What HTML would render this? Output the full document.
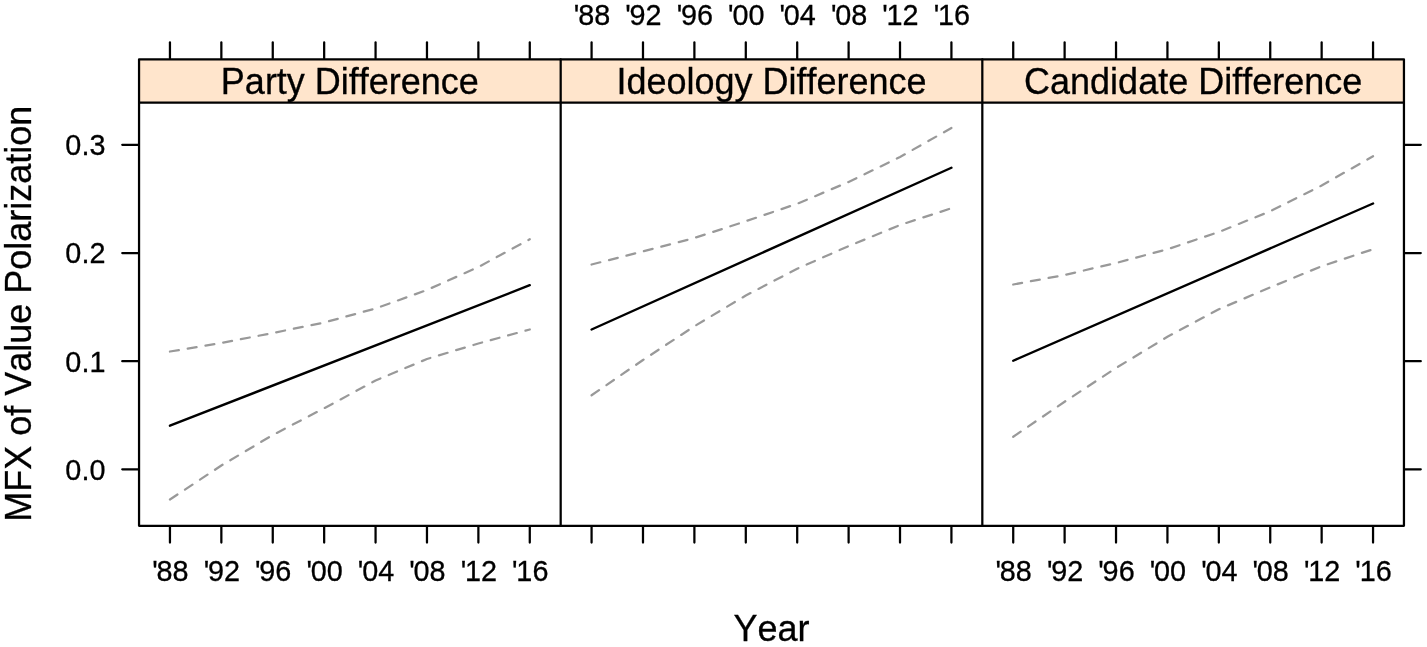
<!DOCTYPE html>
<html><head><meta charset="utf-8"><title>MFX of Value Polarization</title>
<style>html,body{margin:0;padding:0;background:#fff}svg{display:block}</style></head>
<body>
<svg width="1427" height="647" viewBox="0 0 1427 647" font-family="'Liberation Sans', Arial, Helvetica, sans-serif" fill="#000" style="font-variant-ligatures:none;font-kerning:none">
<rect width="1427" height="647" fill="#fff"/>
<rect x="139.05" y="59.25" width="421.63" height="43.45" fill="#ffe5cc"/>
<rect x="560.68" y="59.25" width="421.63" height="43.45" fill="#ffe5cc"/>
<rect x="982.32" y="59.25" width="421.63" height="43.45" fill="#ffe5cc"/>
<polyline points="169.95,351.50 221.35,343.00 272.76,333.00 324.16,322.50 375.57,308.50 426.97,290.00 478.38,267.00 529.78,239.25" fill="none" stroke="#999999" stroke-width="2.25" stroke-dasharray="9 9" stroke-linecap="round" stroke-linejoin="round"/>
<polyline points="169.95,499.50 221.35,465.50 272.76,435.00 324.16,408.25 375.57,380.50 426.97,359.00 478.38,343.50 529.78,329.50" fill="none" stroke="#999999" stroke-width="2.25" stroke-dasharray="9 9" stroke-linecap="round" stroke-linejoin="round"/>
<line x1="169.95" y1="425.7" x2="529.78" y2="285.2" stroke="#000" stroke-width="2.4" stroke-linecap="round"/>
<polyline points="591.58,264.50 642.99,251.40 694.39,238.00 745.80,221.25 797.20,203.75 848.61,182.00 900.01,157.00 951.42,128.00" fill="none" stroke="#999999" stroke-width="2.25" stroke-dasharray="9 9" stroke-linecap="round" stroke-linejoin="round"/>
<polyline points="591.58,395.25 642.99,360.00 694.39,326.25 745.80,295.50 797.20,268.75 848.61,246.10 900.01,225.00 951.42,208.25" fill="none" stroke="#999999" stroke-width="2.25" stroke-dasharray="9 9" stroke-linecap="round" stroke-linejoin="round"/>
<line x1="591.58" y1="329.5" x2="951.42" y2="167.75" stroke="#000" stroke-width="2.4" stroke-linecap="round"/>
<polyline points="1013.22,284.50 1064.62,275.00 1116.03,263.00 1167.43,249.25 1218.84,232.00 1270.24,211.25 1321.65,185.50 1373.05,156.25" fill="none" stroke="#999999" stroke-width="2.25" stroke-dasharray="9 9" stroke-linecap="round" stroke-linejoin="round"/>
<polyline points="1013.22,436.75 1064.62,401.75 1116.03,368.00 1167.43,336.75 1218.84,309.25 1270.24,287.40 1321.65,266.25 1373.05,249.25" fill="none" stroke="#999999" stroke-width="2.25" stroke-dasharray="9 9" stroke-linecap="round" stroke-linejoin="round"/>
<line x1="1013.22" y1="360.75" x2="1373.05" y2="203.5" stroke="#000" stroke-width="2.4" stroke-linecap="round"/>
<g stroke="#000" stroke-width="2.25" fill="none" stroke-linecap="round" stroke-linejoin="miter">
<rect x="139.05" y="59.25" width="1264.90" height="466.55" stroke-linejoin="round"/>
<line x1="139.05" y1="102.7" x2="1403.95" y2="102.7"/>
<line x1="560.68" y1="59.25" x2="560.68" y2="525.8"/>
<line x1="982.32" y1="59.25" x2="982.32" y2="525.8"/>
<line x1="169.95" y1="58.25" x2="169.95" y2="42.45"/>
<line x1="169.95" y1="526.8" x2="169.95" y2="542.5999999999999"/>
<line x1="221.35" y1="58.25" x2="221.35" y2="42.45"/>
<line x1="221.35" y1="526.8" x2="221.35" y2="542.5999999999999"/>
<line x1="272.76" y1="58.25" x2="272.76" y2="42.45"/>
<line x1="272.76" y1="526.8" x2="272.76" y2="542.5999999999999"/>
<line x1="324.16" y1="58.25" x2="324.16" y2="42.45"/>
<line x1="324.16" y1="526.8" x2="324.16" y2="542.5999999999999"/>
<line x1="375.57" y1="58.25" x2="375.57" y2="42.45"/>
<line x1="375.57" y1="526.8" x2="375.57" y2="542.5999999999999"/>
<line x1="426.97" y1="58.25" x2="426.97" y2="42.45"/>
<line x1="426.97" y1="526.8" x2="426.97" y2="542.5999999999999"/>
<line x1="478.38" y1="58.25" x2="478.38" y2="42.45"/>
<line x1="478.38" y1="526.8" x2="478.38" y2="542.5999999999999"/>
<line x1="529.78" y1="58.25" x2="529.78" y2="42.45"/>
<line x1="529.78" y1="526.8" x2="529.78" y2="542.5999999999999"/>
<line x1="591.58" y1="58.25" x2="591.58" y2="42.45"/>
<line x1="591.58" y1="526.8" x2="591.58" y2="542.5999999999999"/>
<line x1="642.99" y1="58.25" x2="642.99" y2="42.45"/>
<line x1="642.99" y1="526.8" x2="642.99" y2="542.5999999999999"/>
<line x1="694.39" y1="58.25" x2="694.39" y2="42.45"/>
<line x1="694.39" y1="526.8" x2="694.39" y2="542.5999999999999"/>
<line x1="745.80" y1="58.25" x2="745.80" y2="42.45"/>
<line x1="745.80" y1="526.8" x2="745.80" y2="542.5999999999999"/>
<line x1="797.20" y1="58.25" x2="797.20" y2="42.45"/>
<line x1="797.20" y1="526.8" x2="797.20" y2="542.5999999999999"/>
<line x1="848.61" y1="58.25" x2="848.61" y2="42.45"/>
<line x1="848.61" y1="526.8" x2="848.61" y2="542.5999999999999"/>
<line x1="900.01" y1="58.25" x2="900.01" y2="42.45"/>
<line x1="900.01" y1="526.8" x2="900.01" y2="542.5999999999999"/>
<line x1="951.42" y1="58.25" x2="951.42" y2="42.45"/>
<line x1="951.42" y1="526.8" x2="951.42" y2="542.5999999999999"/>
<line x1="1013.22" y1="58.25" x2="1013.22" y2="42.45"/>
<line x1="1013.22" y1="526.8" x2="1013.22" y2="542.5999999999999"/>
<line x1="1064.62" y1="58.25" x2="1064.62" y2="42.45"/>
<line x1="1064.62" y1="526.8" x2="1064.62" y2="542.5999999999999"/>
<line x1="1116.03" y1="58.25" x2="1116.03" y2="42.45"/>
<line x1="1116.03" y1="526.8" x2="1116.03" y2="542.5999999999999"/>
<line x1="1167.43" y1="58.25" x2="1167.43" y2="42.45"/>
<line x1="1167.43" y1="526.8" x2="1167.43" y2="542.5999999999999"/>
<line x1="1218.84" y1="58.25" x2="1218.84" y2="42.45"/>
<line x1="1218.84" y1="526.8" x2="1218.84" y2="542.5999999999999"/>
<line x1="1270.24" y1="58.25" x2="1270.24" y2="42.45"/>
<line x1="1270.24" y1="526.8" x2="1270.24" y2="542.5999999999999"/>
<line x1="1321.65" y1="58.25" x2="1321.65" y2="42.45"/>
<line x1="1321.65" y1="526.8" x2="1321.65" y2="542.5999999999999"/>
<line x1="1373.05" y1="58.25" x2="1373.05" y2="42.45"/>
<line x1="1373.05" y1="526.8" x2="1373.05" y2="542.5999999999999"/>
<line x1="138.05" y1="469.35" x2="122.25000000000001" y2="469.35"/>
<line x1="1404.95" y1="469.35" x2="1420.75" y2="469.35"/>
<line x1="138.05" y1="361.18" x2="122.25000000000001" y2="361.18"/>
<line x1="1404.95" y1="361.18" x2="1420.75" y2="361.18"/>
<line x1="138.05" y1="253.01" x2="122.25000000000001" y2="253.01"/>
<line x1="1404.95" y1="253.01" x2="1420.75" y2="253.01"/>
<line x1="138.05" y1="144.84" x2="122.25000000000001" y2="144.84"/>
<line x1="1404.95" y1="144.84" x2="1420.75" y2="144.84"/>
</g>
<text transform="translate(349.87 93.8) scale(1 1.005)" font-size="36" text-anchor="middle" stroke="#000" stroke-width="0.3">Party Difference</text>
<text transform="translate(771.50 93.8) scale(1 1.005)" font-size="36" text-anchor="middle" stroke="#000" stroke-width="0.3">Ideology Difference</text>
<text transform="translate(1193.13 93.8) scale(1 1.005)" font-size="36" text-anchor="middle" stroke="#000" stroke-width="0.3">Candidate Difference</text>
<text transform="translate(169.20 580.6) scale(1 1.0499999999999998)" font-size="28.8" text-anchor="middle" stroke="#000" stroke-width="0.3"><tspan dx="1.2">'</tspan><tspan dx="-1.2">88</tspan></text>
<text transform="translate(220.60 580.6) scale(1 1.0499999999999998)" font-size="28.8" text-anchor="middle" stroke="#000" stroke-width="0.3"><tspan dx="1.2">'</tspan><tspan dx="-1.2">92</tspan></text>
<text transform="translate(272.01 580.6) scale(1 1.0499999999999998)" font-size="28.8" text-anchor="middle" stroke="#000" stroke-width="0.3"><tspan dx="1.2">'</tspan><tspan dx="-1.2">96</tspan></text>
<text transform="translate(323.41 580.6) scale(1 1.0499999999999998)" font-size="28.8" text-anchor="middle" stroke="#000" stroke-width="0.3"><tspan dx="1.2">'</tspan><tspan dx="-1.2">00</tspan></text>
<text transform="translate(374.82 580.6) scale(1 1.0499999999999998)" font-size="28.8" text-anchor="middle" stroke="#000" stroke-width="0.3"><tspan dx="1.2">'</tspan><tspan dx="-1.2">04</tspan></text>
<text transform="translate(426.22 580.6) scale(1 1.0499999999999998)" font-size="28.8" text-anchor="middle" stroke="#000" stroke-width="0.3"><tspan dx="1.2">'</tspan><tspan dx="-1.2">08</tspan></text>
<text transform="translate(477.63 580.6) scale(1 1.0499999999999998)" font-size="28.8" text-anchor="middle" stroke="#000" stroke-width="0.3"><tspan dx="1.2">'</tspan><tspan dx="-1.2">12</tspan></text>
<text transform="translate(529.03 580.6) scale(1 1.0499999999999998)" font-size="28.8" text-anchor="middle" stroke="#000" stroke-width="0.3"><tspan dx="1.2">'</tspan><tspan dx="-1.2">16</tspan></text>
<text transform="translate(1012.47 580.6) scale(1 1.0499999999999998)" font-size="28.8" text-anchor="middle" stroke="#000" stroke-width="0.3"><tspan dx="1.2">'</tspan><tspan dx="-1.2">88</tspan></text>
<text transform="translate(1063.87 580.6) scale(1 1.0499999999999998)" font-size="28.8" text-anchor="middle" stroke="#000" stroke-width="0.3"><tspan dx="1.2">'</tspan><tspan dx="-1.2">92</tspan></text>
<text transform="translate(1115.28 580.6) scale(1 1.0499999999999998)" font-size="28.8" text-anchor="middle" stroke="#000" stroke-width="0.3"><tspan dx="1.2">'</tspan><tspan dx="-1.2">96</tspan></text>
<text transform="translate(1166.68 580.6) scale(1 1.0499999999999998)" font-size="28.8" text-anchor="middle" stroke="#000" stroke-width="0.3"><tspan dx="1.2">'</tspan><tspan dx="-1.2">00</tspan></text>
<text transform="translate(1218.09 580.6) scale(1 1.0499999999999998)" font-size="28.8" text-anchor="middle" stroke="#000" stroke-width="0.3"><tspan dx="1.2">'</tspan><tspan dx="-1.2">04</tspan></text>
<text transform="translate(1269.49 580.6) scale(1 1.0499999999999998)" font-size="28.8" text-anchor="middle" stroke="#000" stroke-width="0.3"><tspan dx="1.2">'</tspan><tspan dx="-1.2">08</tspan></text>
<text transform="translate(1320.90 580.6) scale(1 1.0499999999999998)" font-size="28.8" text-anchor="middle" stroke="#000" stroke-width="0.3"><tspan dx="1.2">'</tspan><tspan dx="-1.2">12</tspan></text>
<text transform="translate(1372.30 580.6) scale(1 1.0499999999999998)" font-size="28.8" text-anchor="middle" stroke="#000" stroke-width="0.3"><tspan dx="1.2">'</tspan><tspan dx="-1.2">16</tspan></text>
<text transform="translate(590.83 25.45) scale(1 1.045)" font-size="28.8" text-anchor="middle" stroke="#000" stroke-width="0.3"><tspan dx="1.2">'</tspan><tspan dx="-1.2">88</tspan></text>
<text transform="translate(642.24 25.45) scale(1 1.045)" font-size="28.8" text-anchor="middle" stroke="#000" stroke-width="0.3"><tspan dx="1.2">'</tspan><tspan dx="-1.2">92</tspan></text>
<text transform="translate(693.64 25.45) scale(1 1.045)" font-size="28.8" text-anchor="middle" stroke="#000" stroke-width="0.3"><tspan dx="1.2">'</tspan><tspan dx="-1.2">96</tspan></text>
<text transform="translate(745.05 25.45) scale(1 1.045)" font-size="28.8" text-anchor="middle" stroke="#000" stroke-width="0.3"><tspan dx="1.2">'</tspan><tspan dx="-1.2">00</tspan></text>
<text transform="translate(796.45 25.45) scale(1 1.045)" font-size="28.8" text-anchor="middle" stroke="#000" stroke-width="0.3"><tspan dx="1.2">'</tspan><tspan dx="-1.2">04</tspan></text>
<text transform="translate(847.86 25.45) scale(1 1.045)" font-size="28.8" text-anchor="middle" stroke="#000" stroke-width="0.3"><tspan dx="1.2">'</tspan><tspan dx="-1.2">08</tspan></text>
<text transform="translate(899.26 25.45) scale(1 1.045)" font-size="28.8" text-anchor="middle" stroke="#000" stroke-width="0.3"><tspan dx="1.2">'</tspan><tspan dx="-1.2">12</tspan></text>
<text transform="translate(950.67 25.45) scale(1 1.045)" font-size="28.8" text-anchor="middle" stroke="#000" stroke-width="0.3"><tspan dx="1.2">'</tspan><tspan dx="-1.2">16</tspan></text>
<text transform="translate(105.4 479.75) scale(1 1.035)" font-size="28.8" text-anchor="end" stroke="#000" stroke-width="0.3">0.0</text>
<text transform="translate(105.4 371.58) scale(1 1.035)" font-size="28.8" text-anchor="end" stroke="#000" stroke-width="0.3">0.1</text>
<text transform="translate(105.4 263.41) scale(1 1.035)" font-size="28.8" text-anchor="end" stroke="#000" stroke-width="0.3">0.2</text>
<text transform="translate(105.4 155.24) scale(1 1.035)" font-size="28.8" text-anchor="end" stroke="#000" stroke-width="0.3">0.3</text>
<text transform="translate(771.50 641) scale(1 1.005)" font-size="36" text-anchor="middle" stroke="#000" stroke-width="0.3">Year</text>
<text transform="translate(31.2 313.65) rotate(-90) scale(1 1.005)" font-size="36" text-anchor="middle" stroke="#000" stroke-width="0.3">MFX of Value Polarization</text>
</svg>
</body></html>
